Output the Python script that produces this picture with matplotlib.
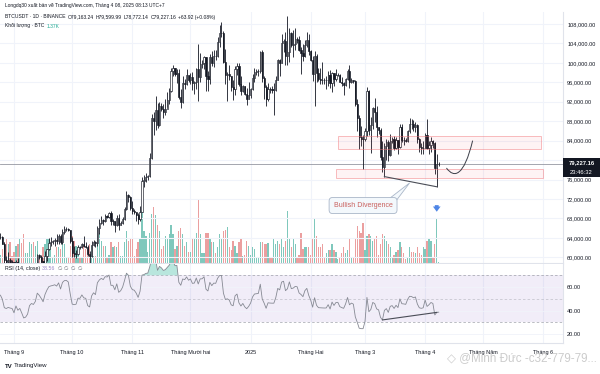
import numpy as np
import pandas as pd
import matplotlib
matplotlib.use("Agg")
import matplotlib.pyplot as plt
import matplotlib.dates as mdates
from matplotlib.patches import Rectangle, Polygon, PathPatch
from matplotlib.path import Path
from matplotlib.transforms import blended_transform_factory

plt.rcParams['font.family'] = ['Liberation Sans', 'DejaVu Sans']

# ---------------- DATA ----------------
start_date = "2024-08-25"
first_open = 64178

# closes used only to warm up the RSI (2024-08-01 .. 2024-08-24)
warmup_close = [65360, 61420, 60690, 58120, 54020, 56030, 55130, 61700, 60880, 60940,
                58710, 59350, 60600, 58740, 57560, 58870, 59490, 58430, 59490, 59010,
                61160, 60380, 64090, 64180]

close = [
    # Aug 25-31
    64260, 62830, 59415, 59035, 59370, 59120, 58970,
    # Sep
    57300, 59130, 57490, 57970, 56180, 53960, 54160, 54870, 57050, 57650, 57340, 58130, 60570, 60000, 59180,
    58200, 60300, 61750, 62940, 63200, 63350, 63580, 63330, 64300, 63140, 65180, 65800, 65870, 65600, 63330,
    # Oct
    60800, 60650, 60750, 62080, 62060, 62820, 62220, 62130, 60580, 60270, 62450, 63200, 62850, 66080, 67040,
    67610, 67400, 68420, 68360, 69030, 67380, 67400, 66650, 68170, 66630, 67020, 67930, 69900, 72720, 72340, 70220,
    # Nov
    69480, 69350, 68740, 67800, 69360, 75640, 75900, 76540, 76700, 80370, 88650, 87950, 90380, 87320, 91030,
    90600, 89850, 90460, 92310, 94290, 98330, 98900, 97700, 97900, 93010, 91970, 95860, 95640, 97460, 96410,
    # Dec
    97190, 95840, 96000, 98770, 97000, 99870, 99920, 101130, 97290, 96680, 101170, 100040, 101460, 101370, 104300,
    106060, 106140, 100200, 97460, 97750, 97220, 95100, 94690, 98680, 99460, 95680, 94160, 95160, 93530, 92640, 93430,
    # Jan
    94590, 96890, 98110, 98240, 98350, 102280, 96950, 95040, 92480, 94700, 94570, 94520, 94520, 96530, 100500,
    99990, 104080, 104560, 101330, 102260, 106140, 103650, 103960, 104820, 104710, 102620, 102080, 101330, 103730, 104740, 102400,
    # Feb
    100650, 97690, 101400, 97870, 96620, 96550, 96500, 96450, 96470, 97430, 95780, 97870, 96620, 97510, 97570,
    96120, 95770, 95540, 96630, 98330, 96130, 96580, 96270, 91550, 88710, 84700, 84370, 84350,
    # Mar
    86060, 94270, 86220, 87220, 90620, 89960, 86740, 86150, 80730, 78600, 82860, 83720, 81070, 83970, 84340,
    82580, 84030, 82710, 86850, 84170, 84040, 83830, 86080, 87500, 87390, 86900, 87220, 84350, 82650, 82390, 82550,
    # Apr
    85160, 82520, 83100, 83840, 83500, 78370, 79163.24, 79227.16,
]

high = [
    64990, 64480, 63210, 60230, 61170, 59820, 59460,
    59060, 59400, 59800, 58520, 58330, 57000, 54850, 55300, 58050, 58040, 57980, 58600, 60670, 60650, 60390,
    59200, 61300, 61800, 63870, 64130, 63560, 63990, 64740, 64800, 64700, 65800, 66500, 66260, 66080, 65620,
    64130, 62390, 61470, 62480, 62370, 62970, 64480, 63200, 62540, 61320, 63400, 63480, 63290, 66500, 67950,
    68420, 67920, 68970, 68670, 69400, 69500, 67830, 67440, 68800, 68830, 67450, 68330, 70270, 73620, 72960, 72700,
    71630, 69900, 69400, 69050, 70580, 76460, 76960, 77250, 76990, 81500, 89530, 89960, 93260, 91790, 91850,
    91770, 91500, 92650, 94000, 94900, 98970, 99580, 99000, 98700, 98700, 94650, 97200, 96650, 98700, 97470,
    97900, 98150, 96300, 99000, 103900, 101990, 100550, 101400, 101200, 98270, 101890, 102540, 102650, 102650, 105250,
    107790, 108350, 106500, 102800, 98150, 99540, 97400, 96400, 99400, 99960, 99880, 97300, 95500, 95200, 94900, 96150,
    94900, 97800, 98900, 98700, 98800, 102500, 102700, 97250, 95350, 95800, 95000, 95300, 95900, 97350, 100700,
    100800, 105900, 104990, 106300, 109590, 107200, 106300, 106850, 107100, 105300, 105500, 103200, 103800, 104800, 106450, 106000,
    102750, 101450, 102500, 101750, 99000, 99000, 100150, 96900, 97300, 98350, 98500, 98100, 98000, 98800, 97950,
    97700, 97000, 96000, 96900, 98700, 99500, 96850, 96500, 96500, 92500, 89300, 87000, 85100,
    86500, 95000, 94400, 88900, 91000, 92800, 91200, 86900, 86500, 83900, 83600, 84350, 84200, 85300, 84700,
    85000, 84700, 84050, 87450, 87450, 84800, 84550, 86100, 88750, 88550, 88300, 87800, 87500, 84600, 83450, 83900,
    85500, 88500, 83900, 84700, 84200, 83800, 81200, 79599.99,
]

low = [
    63800, 62800, 58120, 57860, 58760, 57760, 58700,
    57200, 57130, 57420, 55610, 55680, 52550, 53740, 53650, 54590, 56400, 55550, 57330, 57630, 59570, 58700,
    57500, 57960, 59200, 61600, 62350, 62720, 62350, 62630, 62700, 62680, 62670, 64850, 65420, 65430, 62860,
    60160, 59990, 59820, 60460, 61680, 61810, 62130, 61860, 60300, 58900, 60050, 62420, 62040, 62420, 64800,
    66750, 66670, 67180, 68000, 68100, 66570, 66560, 65260, 66440, 65520, 66600, 66900, 67600, 69730, 71430, 69680,
    68820, 69000, 67450, 66830, 67460, 69320, 74400, 75560, 75800, 76500, 80220, 85070, 86250, 86670, 87100,
    90000, 88720, 89250, 90900, 91500, 94100, 97200, 97200, 95800, 92600, 90800, 91800, 94600, 95400, 96100,
    95700, 94500, 93580, 94650, 92120, 95980, 99020, 98700, 94150, 94250, 95600, 99310, 99200, 100600, 101220,
    103330, 105320, 100000, 95700, 92230, 96400, 94200, 92400, 93400, 97600, 95150, 93300, 94000, 93300, 91300, 92500,
    92800, 94400, 96150, 97500, 97300, 97900, 96100, 92500, 91200, 92200, 93800, 93700, 89260, 94300, 96500,
    97300, 99950, 102300, 99500, 99550, 100100, 103300, 101250, 102750, 104100, 102500, 97800, 100300, 101300, 103300, 101550,
    100300, 96200, 91230, 96150, 96200, 95700, 95600, 95700, 94700, 95250, 94850, 94100, 95300, 96300, 97200,
    96000, 95200, 93400, 95200, 96400, 94850, 95800, 95800, 91200, 86050, 82250, 82800, 78260,
    83900, 85050, 85100, 81500, 86300, 87800, 84700, 85400, 80000, 77500, 76600, 80100, 79900, 80800, 83600,
    82000, 82350, 81150, 82550, 83650, 83200, 83650, 83800, 85500, 86300, 85900, 85800, 83600, 81600, 81300, 81300,
    82400, 82300, 81200, 81700, 82400, 77200, 74510, 78772.14,
]

# volume, thousand BTC
volume = [
    10, 18, 26, 30, 24, 26, 9,
    14, 22, 24, 30, 25, 36, 12, 13, 26, 24, 26, 22, 28, 9, 9,
    20, 24, 30, 32, 22, 7, 10, 20, 20, 18, 28, 24, 7, 7, 22,
    34, 28, 22, 20, 7, 8, 22, 18, 18, 24, 22, 9, 9, 34, 38,
    28, 22, 22, 7, 10, 26, 20, 22, 20, 26, 9, 9, 26, 40, 28, 30,
    30, 9, 18, 26, 32, 66, 40, 34, 14, 38, 62, 70, 60, 48, 40,
    18, 22, 34, 30, 36, 48, 36, 18, 22, 40, 44, 36, 22, 26, 14,
    14, 30, 30, 38, 79, 36, 12, 13, 38, 38, 30, 26, 26, 12, 20,
    36, 30, 40, 42, 45, 20, 16, 28, 22, 12, 26, 30, 9, 10, 28, 22,
    10, 20, 17, 7, 7, 26, 26, 24, 24, 25, 8, 8, 30, 24, 28,
    24, 32, 20, 28, 65, 31, 20, 32, 24, 8, 10, 38, 18, 20, 20, 20,
    10, 30, 55, 34, 20, 20, 24, 6, 12, 16, 16, 24, 16, 14, 5,
    6, 12, 20, 12, 16, 30, 6, 6, 30, 47, 40, 38, 50,
    16, 34, 36, 34, 28, 30, 34, 10, 24, 36, 34, 28, 24, 20, 8,
    10, 14, 16, 26, 20, 12, 5, 6, 20, 14, 14, 12, 20, 12, 10, 20,
    18, 28, 30, 28, 8, 24, 56, 1.37,
]

month_ticks = ["2024-09-01", "2024-10-01", "2024-11-01", "2024-12-01", "2025-01-01",
               "2025-02-01", "2025-03-01", "2025-04-01", "2025-05-01", "2025-06-01"]
month_labels = ["Tháng 9", "Tháng 10", "Tháng 11", "Tháng Mười hai", "2025",
                "Tháng Hai", "Tháng 3", "Tháng 4", "Tháng Năm", "Tháng 6"]
price_ticks = list(range(60000, 108001, 4000))
rsi_ticks = [20, 40, 60]
last_price = 79227.16

# drawings (zones, projection, callout)
zone_hi = ("2025-02-15", "2025-05-31", 82200, 85000)
zone_lo = ("2025-02-14", "2025-06-01", 76250, 78150)
div_start, div_end = "2025-03-11", "2025-04-07"

# ---------------- PREP ----------------
W, H = 600, 374
dates = pd.date_range(start_date, periods=len(close), freq="D")
x = mdates.date2num(dates)
c = np.array(close, float)
h = np.array(high, float)
l = np.array(low, float)
o = np.concatenate([[first_open], c[:-1]])
v = np.array(volume, float)
up = c >= o

allc = np.array(warmup_close + close, float)
d = np.diff(allc)
g = np.where(d > 0, d, 0.0)
ls = np.where(d < 0, -d, 0.0)
n = 14
ag = np.full(len(d), np.nan)
al = np.full(len(d), np.nan)
ag[n - 1] = g[:n].mean()
al[n - 1] = ls[:n].mean()
for i in range(n, len(d)):
    ag[i] = (ag[i - 1] * (n - 1) + g[i]) / n
    al[i] = (al[i - 1] * (n - 1) + ls[i]) / n
rsi = (100 - 100 / (1 + ag / al))[-len(close):]

def dn(s):
    return mdates.date2num(pd.Timestamp(s))

sep1 = dn("2024-09-01")
xlim = (sep1 - 7.22, sep1 + 283.1)


def rect(x0, y0, x1, y1):
    return [x0 / W, 1 - y1 / H, (x1 - x0) / W, (y1 - y0) / H]

fig = plt.figure(figsize=(6, 3.74), dpi=100)
fig.patch.set_facecolor("white")

ax_v = fig.add_axes(rect(0, 12, 563, 263))
ax = fig.add_axes(rect(0, 12, 563, 263), sharex=ax_v)
ax_r = fig.add_axes(rect(0, 264, 563, 343), sharex=ax_v)
ax.patch.set_visible(False)

GRID = "#f0f3fa"
SPINE = "#e0e3eb"
TXT = "#131722"

# volume
ax_v.bar(x, v, width=0.66, color=np.where(up, "#7fc8bc", "#eb9f9f"), linewidth=0)
ax_v.set_ylim(0, 316)
ax_v.axis("off")

# grids
mt = [dn(s) for s in month_ticks]
for m in mt:
    ax_v.axvline(m, color=GRID, lw=0.8, zorder=0)
    ax_r.axvline(m, color=GRID, lw=0.8, zorder=0)
for p in price_ticks:
    ax.axhline(p, color=GRID, lw=0.8, zorder=0)

# candles
ax.vlines(x, l, h, color=TXT, lw=0.6, zorder=3)
ax.bar(x[up], np.maximum((c - o)[up], 80), bottom=o[up], width=0.62,
       color="white", edgecolor=TXT, linewidth=0.45, zorder=4)
ax.bar(x[~up], np.maximum((o - c)[~up], 80), bottom=c[~up], width=0.62,
       color=TXT, edgecolor=TXT, linewidth=0.45, zorder=4)

ax.set_xlim(*xlim)
ax.set_ylim(58823, 110469)

# zones
for z in (zone_hi, zone_lo):
    x0, x1 = dn(z[0]), dn(z[1])
    ax.add_patch(Rectangle((x0, z[2]), x1 - x0, z[3] - z[2],
                           facecolor=(0.95, 0.21, 0.27, 0.06),
                           edgecolor=(0.95, 0.45, 0.47, 0.55), lw=0.6, zorder=5))

# current price line
ax.axhline(last_price, color="#9598a1", lw=0.6, zorder=2)

# divergence line on price
i0 = list(dates).index(pd.Timestamp(div_start))
i1 = list(dates).index(pd.Timestamp(div_end))
ax.plot([x[i0], x[i1]], [l[i0], l[i1]], color="#4a4d57", lw=0.8, zorder=6)

# projection curve
verts = [(dn("2025-04-12"), 78370), (dn("2025-04-16"), 76200),
         (dn("2025-04-21"), 76600), (dn("2025-04-25 12:00"), 84000)]
ax.add_patch(PathPatch(Path(verts, [Path.MOVETO, Path.CURVE4, Path.CURVE4, Path.CURVE4]),
                       facecolor="none", edgecolor="#3b3e48", lw=0.7, zorder=6))

# callout
tail = Polygon([(dn("2025-03-12"), 71600), (dn("2025-03-17"), 71600),
                (dn("2025-03-24"), 75300)], closed=True,
               facecolor="#f3f8fc", edgecolor="#a9b6c8", lw=0.6, zorder=6)
ax.add_patch(tail)
ax.text(dn("2025-02-28"), 70650, "Bullish Divergence", fontsize=5.0, color="#c9605d",
        ha="center", va="center", zorder=7,
        bbox=dict(boxstyle="round,pad=0.65,rounding_size=0.5", fc="#f3f8fc", ec="#a9b6c8", lw=0.6))

# blue arrow
ax.annotate("", xy=(x[i1], 68800), xytext=(x[i1], 71300),
            arrowprops=dict(arrowstyle="simple,head_width=1.1,head_length=0.75,tail_width=0.55",
                            fc="#4f86e6", ec="none", mutation_scale=5), zorder=7)

# axes styling
for a in (ax, ax_r):
    for s in a.spines.values():
        s.set_visible(False)
    a.spines["right"].set_visible(True)
    a.spines["right"].set_color(SPINE)
    a.spines["right"].set_linewidth(0.8)
    a.spines["bottom"].set_visible(True)
    a.spines["bottom"].set_color(SPINE)
    a.spines["bottom"].set_linewidth(0.8)

ax.yaxis.tick_right()
ax.set_yticks(price_ticks)
ax.set_yticklabels([f"{p:,.2f}" for p in price_ticks], fontsize=4.1, color=TXT)
ax.tick_params(axis="y", length=0, pad=3)
ax.tick_params(axis="x", bottom=False, labelbottom=False)

# RSI pane
ax_r.axhspan(30, 70, color="#7e57c2", alpha=0.1, lw=0, zorder=0)
for lev, al_ in ((70, 0.75), (50, 0.45), (30, 0.75)):
    ax_r.axhline(lev, color="#9598a1", lw=0.6, ls=(0, (3, 2.5)), alpha=al_, zorder=1)
ax_r.fill_between(x, rsi, 70, where=rsi > 70, interpolate=True, color="#a6e0d5", alpha=0.8, lw=0, zorder=2)
ax_r.plot(x, rsi, color="#868993", lw=0.6, zorder=3)
j0 = list(dates).index(pd.Timestamp("2025-03-10"))
ax_r.plot([x[j0], x[i1]], [rsi[j0], rsi[i1]], color="#4a4d57", lw=0.8, zorder=4)
ax_r.set_ylim(12.4, 79.6)
ax_r.yaxis.tick_right()
ax_r.set_yticks(rsi_ticks)
ax_r.set_yticklabels([f"{t:.2f}" for t in rsi_ticks], fontsize=4.1, color=TXT)
ax_r.tick_params(axis="y", length=0, pad=3)
for t in rsi_ticks:
    ax_r.axhline(t, color=GRID, lw=0.6, zorder=0)
ax_r.set_xticks(mt)
ax_r.set_xticklabels(month_labels, fontsize=4.0, color=TXT)
ax_r.tick_params(axis="x", length=0, pad=5)
ax_r.set_xlim(*xlim)

# current price tag
bt = blended_transform_factory(fig.transFigure, ax.transData)
ax.add_patch(Rectangle((563 / W, 76520), 37 / W, 3910, transform=bt, facecolor=TXT,
                       edgecolor="none", clip_on=False, zorder=10))
fig.text(581.5 / W, 1 - 162.5 / H, "79,227.16", fontsize=4.2, color="white", ha="center",
         va="center", fontweight="bold", zorder=11)
fig.text(581.5 / W, 1 - 172 / H, "23:46:32", fontsize=4.2, color="white", ha="center",
         va="center", zorder=11)

# text rows
renderer = fig.canvas.get_renderer()

def pieces(x_px, y_px, parts, fs=4.0, gap=2.0):
    xx = x_px
    for s, col, wt in parts:
        t = fig.text(xx / W, 1 - y_px / H, s, fontsize=fs, color=col, fontweight=wt,
                     ha="left", va="center", zorder=12)
        xx += t.get_window_extent(renderer).width + gap

pieces(5, 6, [("Longdq30 xuất bản về TradingView.com, Tháng 4 08, 2025 08:13 UTC+7", TXT, "normal")], fs=3.5)
pieces(5, 17, [("BTCUSDT · 1D · BINANCE", TXT, "normal"),
               ("O79,163.24", TXT, "normal"), ("H79,599.99", TXT, "normal"),
               ("L78,772.14", TXT, "normal"), ("C79,227.16", TXT, "normal"),
               ("+63.92 (+0.08%)", TXT, "normal")], fs=3.6)
pieces(5, 26, [("Khối lượng · BTC", TXT, "normal"), ("1.37K", "#22ab94", "normal")], fs=3.6)
pieces(5, 268.5, [("RSI (14, close)", TXT, "normal"), ("38.56", "#9a86c9", "normal"),
                  ("∅", "#6a6d78", "normal"), ("∅", "#6a6d78", "normal"),
                  ("∅", "#6a6d78", "normal"), ("∅", "#6a6d78", "normal")], fs=3.8)
pieces(5, 366, [("TV", TXT, "bold"), ("TradingView", TXT, "normal")], fs=4.4, gap=1.5)

fig.text(447 / W, 1 - 358 / H, "◇ @Minh Đức -c32-779-79...", fontsize=8.4, color="#cccccc",
         ha="left", va="center", zorder=12)

fig.savefig("out.png", dpi=100, facecolor="white")
